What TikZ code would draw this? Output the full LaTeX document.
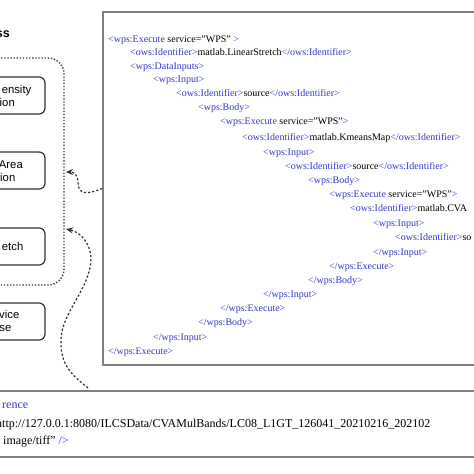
\documentclass[tikz,border=0pt]{standalone}
\usepackage{fontspec}
\setmainfont{Liberation Serif}
\newfontfamily\sansf{Liberation Sans}
\usetikzlibrary{arrows.meta}
\definecolor{tagblue}{RGB}{55,55,205}
\definecolor{framegray}{RGB}{125,128,128}
\definecolor{linegray}{RGB}{50,50,50}
\newcommand{\xtag}[1]{\textcolor{tagblue}{#1}}
\begin{document}
\begin{tikzpicture}[x=1pt,y=-1pt,
  procbox/.style={draw=linegray, line width=1.2pt, rounded corners=6pt, minimum width=70pt, minimum height=37pt, inner sep=0pt},
  boxtxt/.style={font=\sansf\fontsize{11.3}{13}\selectfont, anchor=base east, inner sep=0pt},
  titletxt/.style={font=\sansf\bfseries\fontsize{12.5}{14}\selectfont, anchor=base east, inner sep=0pt},
  frame/.style={draw=framegray, line width=1.5pt, inner sep=0pt},
  xml/.style={font=\fontsize{10}{12}\selectfont, anchor=base west, inner sep=0pt},
  bottxt/.style={font=\fontsize{12}{14}\selectfont, anchor=base west, inner sep=0pt},
  flowloop/.style={draw=linegray, line width=1.4pt, dash pattern=on 1.3pt off 1.8pt},
  flowarrow/.style={draw=linegray, line width=1.2pt, dash pattern=on 2.2pt off 2pt, -{Stealth[length=7pt,width=6pt]}}
]
\useasboundingbox (0,0) rectangle (474,474);
\clip (0,0) rectangle (474,474);
\fill[white] (0,0) rectangle (474,474);

% title fragment
\node[titletxt] (title) at (10,37.5) {ss};

% process boxes
\node[procbox] (b1) at (10,95.5) {};
\node[procbox] (b2) at (10,170.5) {};
\node[procbox] (b3) at (10,246.5) {};
\node[procbox] (b4) at (10,321.5) {};
\node[boxtxt] (b1a) at (31.5,93) {ensity};
\node[boxtxt] (b1b) at (15,106) {ion};
\node[boxtxt] (b2a) at (23,168) {Area};
\node[boxtxt] (b2b) at (15.5,181) {tion};
\node[boxtxt] (b3a) at (23.5,250) {etch};
\node[boxtxt] (b4a) at (19.5,318) {vice};
\node[boxtxt] (b4b) at (11.5,331) {se};

% dotted loop
\coordinate (loopstart) at (-5,58);
\coordinate (loopc1) at (64,58);
\coordinate (loopc2) at (64,285);
\coordinate (loopend) at (-5,285);
\draw[flowloop, rounded corners=16pt] (loopstart) -- (loopc1) -- (loopc2) -- (loopend);

% XML frame
\node[frame, minimum width=390pt, minimum height=353pt] (xmlbox) at (298,188.5) {};

\node[xml] (l1) at (108,42.5) {\xtag{<wps:Execute} service="WPS" \xtag{>}};
\node[xml] (l2) at (130,55.5) {\xtag{<ows:Identifier>}matlab.LinearStretch\xtag{</ows:Identifier>}};
\node[xml] (l3) at (130,69.5) {\xtag{<wps:DataInputs>}};
\node[xml] (l4) at (153,82.5) {\xtag{<wps:Input>}};
\node[xml] (l5) at (176,96.5) {\xtag{<ows:Identifier>}source\xtag{</ows:Identifier>}};
\node[xml] (l6) at (198,110.5) {\xtag{<wps:Body>}};
\node[xml] (l7) at (220,124.5) {\xtag{<wps:Execute} service="WPS"\xtag{>}};
\node[xml] (l8) at (242,140.5) {\xtag{<ows:Identifier>}matlab.KmeansMap\xtag{</ows:Identifier>}};
\node[xml] (l9) at (263,155.5) {\xtag{<wps:Input>}};
\node[xml] (l10) at (285,169.5) {\xtag{<ows:Identifier>}source\xtag{</ows:Identifier>}};
\node[xml] (l11) at (308,183.5) {\xtag{<wps:Body>}};
\node[xml] (l12) at (329,197.5) {\xtag{<wps:Execute} service="WPS"\xtag{>}};
\node[xml] (l13) at (350,211.5) {\xtag{<ows:Identifier>}matlab.CVA};
\node[xml] (l14) at (373,226.5) {\xtag{<wps:Input>}};
\node[xml] (l15) at (395,240.5) {\xtag{<ows:Identifier>}so};
\node[xml] (l16) at (373,255.5) {\xtag{</wps:Input>}};
\node[xml] (l17) at (329,269.5) {\xtag{</wps:Execute>}};
\node[xml] (l18) at (308,283.5) {\xtag{</wps:Body>}};
\node[xml] (l19) at (263,297.5) {\xtag{</wps:Input>}};
\node[xml] (l20) at (220,311.5) {\xtag{</wps:Execute>}};
\node[xml] (l21) at (198,325.5) {\xtag{</wps:Body>}};
\node[xml] (l22) at (153,340.5) {\xtag{</wps:Input>}};
\node[xml] (l23) at (108,354.5) {\xtag{</wps:Execute>}};

% reference frame at bottom
\node[frame, minimum width=500pt, minimum height=66pt] (refbox) at (237,424) {};
\node[bottxt] (r1) at (2,408) {\xtag{rence}};
\node[bottxt] (r2) at (-4,427) {http://127.0.0.1:8080/ILCSData/CVAMulBands/LC08\_L1GT\_126041\_20210216\_202102};
\node[bottxt] (r3) at (3,444) {image/tiff" \xtag{/>}};

% arrows
\coordinate (tip1) at (66,172);
\coordinate (tip2) at (66,229);
\coordinate (start2) at (88,388);
\draw[flowarrow] (xmlbox.west) .. controls (88,194) and (78,196) .. (78,182) .. controls (78,175) and (74,172) .. (tip1);
\draw[flowarrow] (start2) .. controls (72,375) and (60,365) .. (61,340) .. controls (61,313) and (91,288) .. (91,258) .. controls (90,242) and (80,232) .. (tip2);
\end{tikzpicture}
\end{document}
